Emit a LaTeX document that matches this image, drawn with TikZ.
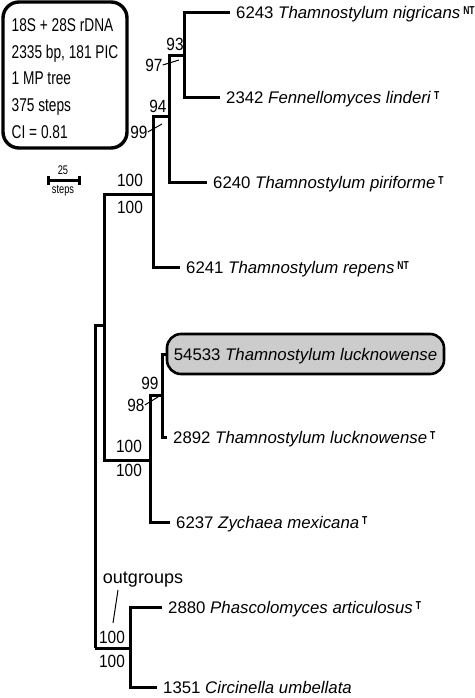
\documentclass[tikz,border=0pt]{standalone}
\usepackage{fontspec}
\setmainfont{Liberation Sans}
\newfontfamily\narrowA[FakeStretch=0.74]{Liberation Sans}
\newfontfamily\narrowB[FakeStretch=0.87]{Liberation Sans}
\newcommand{\tsup}[1]{\hspace{3pt}\raisebox{4pt}{\narrowA\fontsize{11.5}{11.5}\selectfont\bfseries #1}}
\begin{document}
\begin{tikzpicture}[x=1pt,y=-1pt,
  branch/.style={line width=3pt, line join=miter},
  leader/.style={line width=1pt},
  taxon/.style={anchor=west, inner xsep=6pt, inner ysep=0pt, text height=12pt, text depth=0pt, font=\fontsize{16.8}{18}\selectfont},
  hlbox/.style={draw, fill=gray!40, line width=2.6pt, rounded corners=14pt, minimum width=277pt, minimum height=40pt, inner sep=0pt, text height=12pt, text depth=0pt, font=\fontsize{16.8}{18}\selectfont},
  bs/.style={inner sep=0pt, text height=12.7pt, text depth=0pt, font=\narrowB\fontsize{17.7}{18}\selectfont},
  outg/.style={inner sep=0pt, text height=9.3pt, text depth=0pt, font=\fontsize{18}{18}\selectfont},
  infobox/.style={draw, line width=3.4pt, rounded corners=16pt, minimum width=124pt, minimum height=146pt, inner sep=0pt},
  infotext/.style={inner sep=0pt, align=left, font=\narrowA\fontsize{18.5}{26.75}\selectfont},
  small/.style={inner sep=0pt, font=\narrowA\fontsize{12.5}{12.5}\selectfont}
]
\path[use as bounding box, clip] (0,0) rectangle (474,698);

% info box
\node[infobox] (info) at (65,75) {};
\node[infotext] (infot) at ([yshift=-3.5pt]info.center) {18S + 28S rDNA\\2335 bp, 181 PIC\\1 MP tree\\375 steps\\CI = 0.81};

% scale bar
\coordinate (sbL) at (48,180);
\coordinate (sbR) at (79,180);
\draw[branch] (sbL) -- (sbR);
\draw[branch] ([yshift=4.5pt]sbL) -- ([yshift=-4.5pt]sbL);
\draw[branch] ([yshift=4.5pt]sbR) -- ([yshift=-4.5pt]sbR);
\node[small, text height=9pt, text depth=0pt] (sb25) at (63,170) {25};
\node[small, text height=6.5pt, text depth=0pt] (sbst) at (63,190) {steps};

% internal nodes
\coordinate (R)  at (95,648);
\coordinate (I)  at (104,325);
\coordinate (A)  at (153,194);
\coordinate (A1) at (169,117);
\coordinate (A2) at (184,56);
\coordinate (B)  at (150,460);
\coordinate (B1) at (162,395);
\coordinate (O)  at (130,648);

% taxa
\node[taxon] (nig) at (230,13)  {6243 \textit{Thamnostylum nigricans}\tsup{NT}};
\node[taxon] (lin) at (220,98)  {2342 \textit{Fennellomyces linderi}\tsup{T}};
\node[taxon] (pir) at (207,182) {6240 \textit{Thamnostylum piriforme}\tsup{T}};
\node[taxon] (rep) at (180,267) {6241 \textit{Thamnostylum repens}\tsup{NT}};
\node[hlbox] (new) at (305.5,354) {54533 \textit{Thamnostylum lucknowense}};
\node[taxon] (luc) at (167,437) {2892 \textit{Thamnostylum lucknowense}\tsup{T}};
\node[taxon] (zyc) at (170,522) {6237 \textit{Zychaea mexicana}\tsup{T}};
\node[taxon] (pha) at (162,607) {2880 \textit{Phascolomyces articulosus}\tsup{T}};
\node[taxon] (cir) at (157,687) {1351 \textit{Circinella umbellata}};

% branches
\draw[branch] (R) |- (I);
\draw[branch] (R) -- (O);
\draw[branch] (I) |- (A);
\draw[branch] (I) |- (B);
\draw[branch] (A) |- (A1);
\draw[branch] (A) |- (rep.west);
\draw[branch] (A1) |- (A2);
\draw[branch] (A1) |- (pir.west);
\draw[branch] (A2) |- (nig.west);
\draw[branch] (A2) |- (lin.west);
\draw[branch] (B) |- (B1);
\draw[branch] (B) |- (zyc.west);
\draw[branch] (B1) |- (new.west);
\draw[branch] (B1) |- (luc.west);
\draw[branch] (O) |- (pha.west);
\draw[branch] (O) |- (cir.west);

% support values
\node[bs] (b93)  at (175,44)  {93};
\node[bs] (b97)  at (154,65)  {97};
\node[bs] (b94)  at (158,106) {94};
\node[bs] (b99a) at (139,132) {99};
\node[bs] (b100a) at (130,180) {100};
\node[bs] (b100b) at (130,207) {100};
\node[bs] (b99b) at (150,383) {99};
\node[bs] (b98)  at (136,405) {98};
\node[bs] (b100c) at (129,446) {100};
\node[bs] (b100d) at (129,470) {100};
\node[bs] (b100e) at (112,637) {100};
\node[bs] (b100f) at (112,661) {100};

\coordinate (l97) at (179,60);
\coordinate (l99) at (162,124);
\coordinate (l98) at (158,397);
\draw[leader] (b97.east) -- (l97);
\draw[leader] (b99a.east) -- (l99);
\draw[leader] (b98.east) -- (l98);

% outgroups label
\node[outg] (og) at (143,579) {outgroups};
\coordinate (ogA) at (118,590);
\coordinate (ogB) at (113,623);
\draw[leader] (ogA) -- (ogB);
\end{tikzpicture}
\end{document}
